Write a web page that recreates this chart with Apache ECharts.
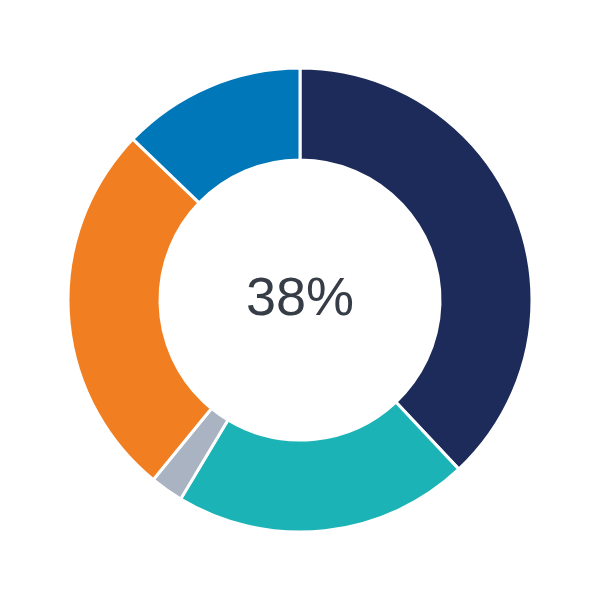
<!DOCTYPE html>
<html>
<head>
<meta charset="utf-8">
<script src="https://cdn.jsdelivr.net/npm/echarts@6/dist/echarts.min.js"></script>
<style>
html,body{margin:0;padding:0;background:#fff;}
#donut{width:600px;height:600px;}
</style>
</head>
<body>
<div id="donut"></div>
<script type="text/javascript">
// slices clockwise from 12 o'clock
var sliceNames  = ['A', 'B', 'C', 'D', 'E'];
var sliceValues = [38, 20.6, 2.3, 26.3, 12.8];
var sliceColors = ['#1c2b5a', '#1bb3b5', '#a9b3c2', '#f17f21', '#0077b8'];
var centerLabel = '38%';

var donut = echarts.init(document.getElementById('donut'));
var donutOption = {
    animation: false,
    graphic: [{
        type: 'text',
        left: 'center',
        top: 'middle',
        style: {
            text: centerLabel,
            font: '54px "Liberation Sans", Arial, sans-serif',
            fill: '#363d46'
        }
    }],
    series: [{
        type: 'pie',
        center: [300, 300],
        radius: [140, 232],
        startAngle: 90,
        clockwise: true,
        label: {show: false},
        labelLine: {show: false},
        emphasis: {disabled: true},
        itemStyle: {borderColor: '#fff', borderWidth: 3},
        data: sliceNames.map(function (n, i) {
            return {name: n, value: sliceValues[i], itemStyle: {color: sliceColors[i]}};
        })
    }]
};
donut.setOption(donutOption);
</script>
</body>
</html>
